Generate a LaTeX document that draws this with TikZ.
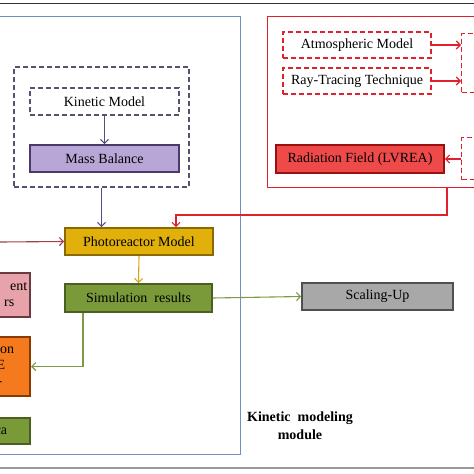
\documentclass[tikz,border=0pt]{standalone}
\usepackage{fontspec}
\setmainfont{Liberation Serif}
\usetikzlibrary{arrows.meta,calc}
\definecolor{bluefr}{HTML}{6F8FC0}
\definecolor{redfr}{HTML}{E0202A}
\definecolor{purpdash}{HTML}{5A5070}
\definecolor{purpfill}{HTML}{B8A6D6}
\definecolor{purpdark}{HTML}{4A3A6A}
\definecolor{goldfill}{HTML}{E2B00A}
\definecolor{golddark}{HTML}{8A6A00}
\definecolor{greenfill}{HTML}{7A9A3A}
\definecolor{greendark}{HTML}{4A6020}
\definecolor{grayfill}{HTML}{A8A8A8}
\definecolor{graydark}{HTML}{505050}
\definecolor{redfill}{HTML}{EE4A4A}
\definecolor{reddark}{HTML}{9A1010}
\definecolor{pinkfill}{HTML}{E8A2AA}
\definecolor{pinkdark}{HTML}{6A3A40}
\definecolor{orangefill}{HTML}{F57A1E}
\definecolor{orangedark}{HTML}{8A3A00}
\definecolor{arrgreen}{HTML}{7E9A48}
\definecolor{arrgold}{HTML}{D6A61A}
\definecolor{arrpurp}{HTML}{5A4A8A}
\definecolor{arrdred}{HTML}{A0404A}
\newcommand{\padr}[1]{\rule{#1}{0pt}}
\tikzset{
  txt/.style={font=\fontsize{14}{16}\selectfont},
  solidbox/.style={txt, draw=#1, line width=1.6pt, inner sep=0pt},
  dashbox/.style={txt, draw=#1, line width=1.2pt, dash pattern=on 5pt off 3pt, inner sep=0pt},
  edgebox/.style={solidbox=#1, anchor=east, text width=74pt, align=right, inner xsep=3pt},
  conn/.style={draw=#1, line width=1.1pt, -{Straight Barb[length=4pt,width=8pt]}},
}
\begin{document}
\begin{tikzpicture}[x=1pt,y=-1pt]
\useasboundingbox (0,0) rectangle (474,474);
\fill[white] (0,0) rectangle (474,474);
% frame lines
\draw[line width=1.2pt, black!80] (0,3.5) -- (474,3.5);
\draw[line width=1.4pt, black!40] (0,468) -- (474,468);
\node (bluefr) [draw=bluefr, line width=1.2pt, minimum width=256pt, minimum height=438.5pt, anchor=north east, inner sep=0pt] at (241,15.5) {};
\node (redfr) [draw=redfr, line width=1.3pt, minimum width=240pt, minimum height=171.5pt, anchor=north west, inner sep=0pt] at (267,15.5) {};
% left module
\node (outer) [dashbox=purpdash, minimum width=175pt, minimum height=120pt] at (101.5,127) {};
\node (km) [dashbox=purpdash, minimum width=149pt, minimum height=27pt] at (104.5,101.5) {Kinetic Model};
\node (mb) [solidbox=purpdark, fill=purpfill, minimum width=149pt, minimum height=27pt] at (104.5,158.5) {Mass Balance};
\node (photo) [solidbox=golddark, fill=goldfill, minimum width=148pt, minimum height=27pt] at (139,241.5) {Photoreactor Model};
\node (sim) [solidbox=greendark, fill=greenfill, minimum width=147pt, minimum height=28pt] at (138.5,298) {Simulation\ \ results};
\node (scale) [solidbox=graydark, fill=grayfill, minimum width=151pt, minimum height=27pt] at (377.5,296.5) {Scaling-Up};
% partial boxes at the left edge
\node (pink) [edgebox=pinkdark, fill=pinkfill, minimum height=44pt] at (31,295) {ent\\rs\padr{13pt}};
\node (orange) [edgebox=orangedark, fill=orangefill, minimum height=59pt] at (31,366.5) {on\padr{13pt}\\E\padr{22pt}\\-\padr{25pt}};
\node (gbox) [edgebox=greendark, fill=greenfill, minimum height=26pt] at (31,431) {ca\padr{20pt}};
% right module
\node (atm) [dashbox=redfr, minimum width=148pt, minimum height=26pt] at (357,45) {Atmospheric Model};
\node (ray) [dashbox=redfr, minimum width=148pt, minimum height=26pt] at (357,81) {Ray-Tracing Technique};
\node (rd1) [dashbox=redfr, minimum width=60pt, minimum height=59pt, anchor=north west] at (461,33) {};
\node (rd2) [dashbox=redfr, minimum width=60pt, minimum height=42pt, anchor=north west] at (461,137) {};
\node (rad) [solidbox=reddark, fill=redfill, minimum width=168pt, minimum height=28pt] at (360,159) {Radiation Field (LVREA)};
% label
\node (lbl) [font=\fontsize{14}{18}\selectfont\bfseries, align=center] at (300,426) {Kinetic\ \ modeling\\module};
% connectors
\coordinate (rstart) at (447,187);
\coordinate (leftin) at (0,242);
\draw[conn=arrpurp] (km.south) -- (mb.north);
\draw[conn=arrpurp] (outer.south) -- (outer.south |- photo.north);
\draw[conn=redfr] (rstart) -- ++(0,28) -| ([xshift=37pt]photo.north);
\draw[conn=arrdred] (leftin) -- (photo.west);
\draw[conn=arrgold] (photo.south) -- (sim.north);
\draw[conn=arrgreen] (sim.east) -- (scale.west);
\draw[conn=arrgreen] ([xshift=-55.5pt]sim.south) |- (orange.east);
\draw[conn=redfr] (atm.east) -- (atm.east -| rd1.west);
\draw[conn=redfr] (ray.east) -- (ray.east -| rd1.west);
\draw[conn=redfr] (rad.east -| rd2.west) -- (rad.east);
\end{tikzpicture}
\end{document}
